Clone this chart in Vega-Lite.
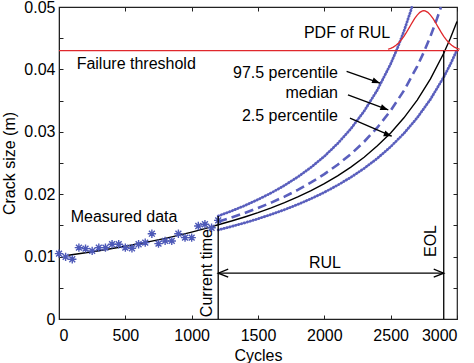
{
  "$schema": "https://vega.github.io/schema/vega-lite/v6.json",
  "width": 398,
  "height": 312,
  "autosize": {"type": "none"},
  "padding": {"left": 59, "top": 7, "right": 17, "bottom": 44},
  "background": "white",
  "config": {
    "font": "Liberation Sans",
    "view": {"stroke": "#222222", "strokeWidth": 1.2},
    "axis": {"grid": false, "domainColor": "#222222", "tickColor": "#222222", "labelColor": "black", "titleColor": "black", "labelFont": "Liberation Sans", "titleFont": "Liberation Sans", "labelFontSize": 16, "titleFontSize": 16, "titleFontWeight": "normal", "tickSize": -4}
  },
  "resolve": {"axis": {"x": "independent", "y": "independent"}},
  "datasets": {
    "measured": [
      {"cycle": 0, "size": 0.01048}, {"cycle": 50, "size": 0.00995}, {"cycle": 100, "size": 0.00958}, {"cycle": 150, "size": 0.01144},
      {"cycle": 200, "size": 0.01128}, {"cycle": 250, "size": 0.01091}, {"cycle": 300, "size": 0.01144}, {"cycle": 350, "size": 0.01144},
      {"cycle": 400, "size": 0.01198}, {"cycle": 450, "size": 0.01198}, {"cycle": 500, "size": 0.01144}, {"cycle": 550, "size": 0.01134},
      {"cycle": 600, "size": 0.01198}, {"cycle": 650, "size": 0.01224}, {"cycle": 700, "size": 0.01367}, {"cycle": 750, "size": 0.01208},
      {"cycle": 800, "size": 0.01251}, {"cycle": 850, "size": 0.01251}, {"cycle": 900, "size": 0.01367}, {"cycle": 950, "size": 0.01304},
      {"cycle": 1000, "size": 0.01304}, {"cycle": 1050, "size": 0.0149}, {"cycle": 1100, "size": 0.01518}, {"cycle": 1150, "size": 0.01463},
      {"cycle": 1200, "size": 0.01581}
    ],
    "curves": [
      {"series": "true", "cycle": 70, "size": 0.01022}, {"series": "true", "cycle": 200, "size": 0.01062}, {"series": "true", "cycle": 300, "size": 0.01094},
      {"series": "true", "cycle": 400, "size": 0.01129}, {"series": "true", "cycle": 500, "size": 0.01166}, {"series": "true", "cycle": 600, "size": 0.01205},
      {"series": "true", "cycle": 700, "size": 0.01247}, {"series": "true", "cycle": 800, "size": 0.01292}, {"series": "true", "cycle": 900, "size": 0.0134},
      {"series": "true", "cycle": 1000, "size": 0.01393}, {"series": "true", "cycle": 1100, "size": 0.01449}, {"series": "true", "cycle": 1200, "size": 0.01511},
      {"series": "true", "cycle": 1300, "size": 0.0157}, {"series": "true", "cycle": 1400, "size": 0.01635}, {"series": "true", "cycle": 1500, "size": 0.01705},
      {"series": "true", "cycle": 1600, "size": 0.01781}, {"series": "true", "cycle": 1700, "size": 0.01864}, {"series": "true", "cycle": 1800, "size": 0.01956},
      {"series": "true", "cycle": 1900, "size": 0.02057}, {"series": "true", "cycle": 2000, "size": 0.02169}, {"series": "true", "cycle": 2100, "size": 0.02295},
      {"series": "true", "cycle": 2200, "size": 0.02435}, {"series": "true", "cycle": 2300, "size": 0.02593}, {"series": "true", "cycle": 2400, "size": 0.02775},
      {"series": "true", "cycle": 2500, "size": 0.02982}, {"series": "true", "cycle": 2600, "size": 0.03224}, {"series": "true", "cycle": 2700, "size": 0.03508},
      {"series": "true", "cycle": 2800, "size": 0.03848}, {"series": "true", "cycle": 2900, "size": 0.04259}, {"series": "true", "cycle": 2950, "size": 0.045},
      {"series": "true", "cycle": 3000, "size": 0.04769},
      {"series": "p975", "cycle": 1200, "size": 0.0165}, {"series": "p975", "cycle": 1300, "size": 0.0173}, {"series": "p975", "cycle": 1400, "size": 0.01817},
      {"series": "p975", "cycle": 1500, "size": 0.01914}, {"series": "p975", "cycle": 1600, "size": 0.02021}, {"series": "p975", "cycle": 1700, "size": 0.02141},
      {"series": "p975", "cycle": 1800, "size": 0.02277}, {"series": "p975", "cycle": 1900, "size": 0.02431}, {"series": "p975", "cycle": 2000, "size": 0.02607},
      {"series": "p975", "cycle": 2100, "size": 0.02811}, {"series": "p975", "cycle": 2200, "size": 0.03049}, {"series": "p975", "cycle": 2300, "size": 0.03331},
      {"series": "p975", "cycle": 2400, "size": 0.03671}, {"series": "p975", "cycle": 2500, "size": 0.04088}, {"series": "p975", "cycle": 2550, "size": 0.04335},
      {"series": "p975", "cycle": 2600, "size": 0.04613}, {"series": "p975", "cycle": 2650, "size": 0.04929}, {"series": "p975", "cycle": 2660, "size": 0.04998},
      {"series": "median", "cycle": 1200, "size": 0.0156}, {"series": "median", "cycle": 1300, "size": 0.01627}, {"series": "median", "cycle": 1400, "size": 0.01699},
      {"series": "median", "cycle": 1500, "size": 0.01779}, {"series": "median", "cycle": 1600, "size": 0.01866}, {"series": "median", "cycle": 1700, "size": 0.01962},
      {"series": "median", "cycle": 1800, "size": 0.02069}, {"series": "median", "cycle": 1900, "size": 0.02188}, {"series": "median", "cycle": 2000, "size": 0.02321},
      {"series": "median", "cycle": 2100, "size": 0.02472}, {"series": "median", "cycle": 2200, "size": 0.02643}, {"series": "median", "cycle": 2300, "size": 0.02841},
      {"series": "median", "cycle": 2400, "size": 0.03069}, {"series": "median", "cycle": 2500, "size": 0.03339}, {"series": "median", "cycle": 2600, "size": 0.0366},
      {"series": "median", "cycle": 2700, "size": 0.04049}, {"series": "median", "cycle": 2750, "size": 0.04275}, {"series": "median", "cycle": 2800, "size": 0.04531},
      {"series": "median", "cycle": 2850, "size": 0.04817}, {"series": "median", "cycle": 2879, "size": 0.04999},
      {"series": "p025", "cycle": 1200, "size": 0.01427}, {"series": "p025", "cycle": 1300, "size": 0.01482}, {"series": "p025", "cycle": 1400, "size": 0.01541},
      {"series": "p025", "cycle": 1500, "size": 0.01606}, {"series": "p025", "cycle": 1600, "size": 0.01676}, {"series": "p025", "cycle": 1700, "size": 0.01752},
      {"series": "p025", "cycle": 1800, "size": 0.01836}, {"series": "p025", "cycle": 1900, "size": 0.01928}, {"series": "p025", "cycle": 2000, "size": 0.0203},
      {"series": "p025", "cycle": 2100, "size": 0.02144}, {"series": "p025", "cycle": 2200, "size": 0.02271}, {"series": "p025", "cycle": 2300, "size": 0.02414},
      {"series": "p025", "cycle": 2400, "size": 0.02575}, {"series": "p025", "cycle": 2500, "size": 0.02761}, {"series": "p025", "cycle": 2600, "size": 0.02974},
      {"series": "p025", "cycle": 2700, "size": 0.03225}, {"series": "p025", "cycle": 2800, "size": 0.03521}, {"series": "p025", "cycle": 2900, "size": 0.03876},
      {"series": "p025", "cycle": 2950, "size": 0.04082}, {"series": "p025", "cycle": 3000, "size": 0.04312}
    ],
    "pdf": [
      {"cycle": 2480, "size": 0.04323}, {"cycle": 2500, "size": 0.04338}, {"cycle": 2520, "size": 0.04358}, {"cycle": 2540, "size": 0.04387},
      {"cycle": 2560, "size": 0.04424}, {"cycle": 2580, "size": 0.04473}, {"cycle": 2600, "size": 0.04531}, {"cycle": 2620, "size": 0.04597},
      {"cycle": 2640, "size": 0.0467}, {"cycle": 2660, "size": 0.04743}, {"cycle": 2680, "size": 0.04812}, {"cycle": 2700, "size": 0.04871},
      {"cycle": 2720, "size": 0.04914}, {"cycle": 2740, "size": 0.04937}, {"cycle": 2750, "size": 0.0494}, {"cycle": 2760, "size": 0.04937},
      {"cycle": 2780, "size": 0.04914}, {"cycle": 2800, "size": 0.04871}, {"cycle": 2820, "size": 0.04812}, {"cycle": 2840, "size": 0.04743},
      {"cycle": 2860, "size": 0.0467}, {"cycle": 2880, "size": 0.04597}, {"cycle": 2900, "size": 0.04531}, {"cycle": 2920, "size": 0.04473},
      {"cycle": 2940, "size": 0.04424}, {"cycle": 2960, "size": 0.04387}, {"cycle": 2980, "size": 0.04358}, {"cycle": 3000, "size": 0.04338},
      {"cycle": 3020, "size": 0.04323}
    ],
    "arrows": [
      {"name": "p975", "cycle": 2168, "size": 0.0397, "cycle2": 2420, "size2": 0.0378},
      {"name": "median", "cycle": 2178, "size": 0.0359, "cycle2": 2482, "size2": 0.0335},
      {"name": "p025", "cycle": 2193, "size": 0.0322, "cycle2": 2508, "size2": 0.0293},
      {"name": "RUL", "cycle": 1200, "size": 0.00735, "cycle2": 2900, "size2": 0.00735},
      {"name": "current", "cycle": 1200, "size": 0, "cycle2": 1200, "size2": 0.0165},
      {"name": "EOL", "cycle": 2900, "size": 0, "cycle2": 2900, "size2": 0.043}
    ]
  },
  "layer": [
    {
      "data": {"name": "curves"},
      "transform": [{"filter": "datum.series === 'true'"}],
      "mark": {"type": "line", "color": "black", "strokeWidth": 1.4},
      "encoding": {
        "x": {"field": "cycle", "type": "quantitative", "scale": {"domain": [0, 3000], "nice": false, "zero": false},
          "axis": {"orient": "bottom", "title": "Cycles", "values": [0, 500, 1000, 1500, 2000, 2500, 3000], "format": "d", "labelPadding": 12, "titlePadding": 4}},
        "y": {"field": "size", "type": "quantitative", "scale": {"domain": [0, 0.05], "nice": false},
          "axis": {"orient": "left", "title": "Crack size (m)", "values": [0, 0.005, 0.01, 0.015, 0.02, 0.025, 0.03, 0.035, 0.04, 0.045, 0.05],
            "labelExpr": "round(datum.value * 200) % 2 == 0 ? format(datum.value, '.2~f') : ''", "labelPadding": 8, "titlePadding": 6}}
      }
    },
    {
      "data": {"name": "curves"},
      "transform": [{"filter": "datum.series === 'p975' || datum.series === 'p025'"}],
      "mark": {"type": "line", "color": "#5a5fbd", "strokeWidth": 2.8, "strokeDash": [0.5, 2.5], "strokeCap": "round"},
      "encoding": {
        "x": {"field": "cycle", "type": "quantitative", "axis": null},
        "y": {"field": "size", "type": "quantitative", "axis": null},
        "detail": {"field": "series"}
      }
    },
    {
      "data": {"name": "curves"},
      "transform": [{"filter": "datum.series === 'median'"}],
      "mark": {"type": "line", "color": "#5a5fbd", "strokeWidth": 2.6, "strokeDash": [9, 5]},
      "encoding": {
        "x": {"field": "cycle", "type": "quantitative", "axis": null},
        "y": {"field": "size", "type": "quantitative", "axis": null}
      }
    },
    {
      "data": {"name": "measured"},
      "mark": {"type": "point", "shape": "M-1,0L1,0M0,-1L0,1M-0.7,-0.7L0.7,0.7M-0.7,0.7L0.7,-0.7", "filled": false, "color": "#4d59b8", "size": 70, "strokeWidth": 1.4, "opacity": 1, "clip": false},
      "encoding": {
        "x": {"field": "cycle", "type": "quantitative",
          "axis": {"orient": "top", "title": null, "labels": false, "values": [0, 500, 1000, 1500, 2000, 2500, 3000], "domain": false}},
        "y": {"field": "size", "type": "quantitative",
          "axis": {"orient": "right", "title": null, "labels": false, "values": [0, 0.005, 0.01, 0.015, 0.02, 0.025, 0.03, 0.035, 0.04, 0.045, 0.05], "domain": false}}
      }
    },
    {
      "data": {"values": [{"cycle": 0, "cycle2": 3015, "size": 0.043}]},
      "mark": {"type": "rule", "color": "#e0282c", "strokeWidth": 1.3, "clip": false},
      "encoding": {
        "x": {"field": "cycle", "type": "quantitative", "axis": null},
        "x2": {"field": "cycle2"},
        "y": {"field": "size", "type": "quantitative", "axis": null}
      }
    },
    {
      "data": {"name": "pdf"},
      "mark": {"type": "line", "color": "#e0282c", "strokeWidth": 1.3, "clip": false},
      "encoding": {
        "x": {"field": "cycle", "type": "quantitative", "axis": null},
        "y": {"field": "size", "type": "quantitative", "axis": null}
      }
    },
    {
      "data": {"name": "arrows"},
      "mark": {"type": "rule", "color": "black", "strokeWidth": 1.3},
      "encoding": {
        "x": {"field": "cycle", "type": "quantitative", "axis": null},
        "x2": {"field": "cycle2"},
        "y": {"field": "size", "type": "quantitative", "axis": null},
        "y2": {"field": "size2"}
      }
    },
    {
      "data": {"name": "arrows"},
      "transform": [{"filter": "datum.name === 'p975' || datum.name === 'median' || datum.name === 'p025'"}],
      "mark": {"type": "point", "shape": "M0,0L-1,-0.38L-1,0.38Z", "filled": true, "color": "black", "size": 256, "angle": 21, "opacity": 1},
      "encoding": {
        "x": {"field": "cycle2", "type": "quantitative", "axis": null},
        "y": {"field": "size2", "type": "quantitative", "axis": null}
      }
    },
    {
      "data": {"values": [{"cycle": 1200, "size": 0.00735}]},
      "mark": {"type": "point", "shape": "M2,-0.8L0,0L2,0.8", "filled": false, "color": "black", "size": 100, "strokeWidth": 1.3, "opacity": 1},
      "encoding": {
        "x": {"field": "cycle", "type": "quantitative", "axis": null},
        "y": {"field": "size", "type": "quantitative", "axis": null}
      }
    },
    {
      "data": {"values": [{"cycle": 2900, "size": 0.00735}]},
      "mark": {"type": "point", "shape": "M-2,-0.8L0,0L-2,0.8", "filled": false, "color": "black", "size": 100, "strokeWidth": 1.3, "opacity": 1},
      "encoding": {
        "x": {"field": "cycle", "type": "quantitative", "axis": null},
        "y": {"field": "size", "type": "quantitative", "axis": null}
      }
    },
    {
      "data": {"values": [
        {"label": "Measured data", "cycle": 88, "size": 0.0164},
        {"label": "Failure threshold", "cycle": 133, "size": 0.0408},
        {"label": "PDF of RUL", "cycle": 1846, "size": 0.0459}
      ]},
      "mark": {"type": "text", "align": "left", "baseline": "middle", "fontSize": 16, "font": "Liberation Sans", "color": "black"},
      "encoding": {
        "x": {"field": "cycle", "type": "quantitative", "axis": null},
        "y": {"field": "size", "type": "quantitative", "axis": null},
        "text": {"field": "label"}
      }
    },
    {
      "data": {"values": [
        {"label": "97.5 percentile", "cycle": 2103, "size": 0.0394},
        {"label": "median", "cycle": 2103, "size": 0.0362},
        {"label": "2.5 percentile", "cycle": 2103, "size": 0.0325}
      ]},
      "mark": {"type": "text", "align": "right", "baseline": "middle", "fontSize": 16, "font": "Liberation Sans", "color": "black"},
      "encoding": {
        "x": {"field": "cycle", "type": "quantitative", "axis": null},
        "y": {"field": "size", "type": "quantitative", "axis": null},
        "text": {"field": "label"}
      }
    },
    {
      "data": {"values": [{"label": "RUL", "cycle": 2005, "size": 0.009}]},
      "mark": {"type": "text", "align": "center", "baseline": "middle", "fontSize": 16, "font": "Liberation Sans", "color": "black"},
      "encoding": {
        "x": {"field": "cycle", "type": "quantitative", "axis": null},
        "y": {"field": "size", "type": "quantitative", "axis": null},
        "text": {"field": "label"}
      }
    },
    {
      "data": {"values": [{"label": "Current time", "cycle": 1118, "size": 0.0003}]},
      "mark": {"type": "text", "align": "left", "baseline": "middle", "angle": 270, "fontSize": 16, "font": "Liberation Sans", "color": "black"},
      "encoding": {
        "x": {"field": "cycle", "type": "quantitative", "axis": null},
        "y": {"field": "size", "type": "quantitative", "axis": null},
        "text": {"field": "label"}
      }
    },
    {
      "data": {"values": [{"label": "EOL", "cycle": 2806, "size": 0.0125}]},
      "mark": {"type": "text", "align": "center", "baseline": "middle", "angle": 270, "fontSize": 16, "font": "Liberation Sans", "color": "black"},
      "encoding": {
        "x": {"field": "cycle", "type": "quantitative", "axis": null},
        "y": {"field": "size", "type": "quantitative", "axis": null},
        "text": {"field": "label"}
      }
    }
  ]
}
